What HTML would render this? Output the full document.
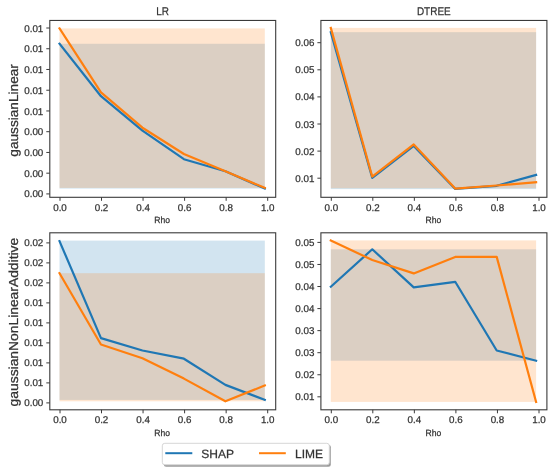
<!DOCTYPE html><html><head><meta charset="utf-8"><style>
html,body{margin:0;padding:0;background:#fff;width:550px;height:472px;overflow:hidden}
svg{display:block;will-change:transform}
text{font-family:"Liberation Sans", sans-serif;fill:#333;stroke:#333;stroke-width:0.25px;text-rendering:geometricPrecision}
.tk{font-size:9.8px}.lb{font-size:9px}.ti{font-size:11.2px}.yl{font-size:13px}.lg{font-size:12px}
</style></head><body>
<svg width="550" height="472" viewBox="0 0 550 472">
<rect x="0" y="0" width="550" height="472" fill="#fff"/>
<rect x="59.50" y="43.80" width="205.30" height="144.80" fill="#1f77b4" fill-opacity="0.2"/>
<rect x="59.50" y="28.40" width="205.30" height="159.50" fill="#ff7f0e" fill-opacity="0.2"/>
<polyline points="59.50,43.80 100.97,96.20 142.45,130.60 183.92,159.20 225.40,171.30 264.80,188.60" fill="none" stroke="#1f77b4" stroke-width="2.2" stroke-linejoin="round" stroke-linecap="square"/>
<polyline points="59.50,28.40 100.97,92.40 142.45,127.70 183.92,154.00 225.40,171.30 264.80,187.90" fill="none" stroke="#ff7f0e" stroke-width="2.2" stroke-linejoin="round" stroke-linecap="square"/>
<rect x="49.80" y="20.45" width="225.90" height="176.85" fill="none" stroke="#3a3a3a" stroke-width="1.1"/>
<line x1="60.00" y1="197.30" x2="60.00" y2="200.80" stroke="#3a3a3a" stroke-width="1"/>
<text class="tk" x="60.00" y="210.70" text-anchor="middle">0.0</text>
<line x1="101.50" y1="197.30" x2="101.50" y2="200.80" stroke="#3a3a3a" stroke-width="1"/>
<text class="tk" x="101.50" y="210.70" text-anchor="middle">0.2</text>
<line x1="143.05" y1="197.30" x2="143.05" y2="200.80" stroke="#3a3a3a" stroke-width="1"/>
<text class="tk" x="143.05" y="210.70" text-anchor="middle">0.4</text>
<line x1="184.60" y1="197.30" x2="184.60" y2="200.80" stroke="#3a3a3a" stroke-width="1"/>
<text class="tk" x="184.60" y="210.70" text-anchor="middle">0.6</text>
<line x1="226.15" y1="197.30" x2="226.15" y2="200.80" stroke="#3a3a3a" stroke-width="1"/>
<text class="tk" x="226.15" y="210.70" text-anchor="middle">0.8</text>
<line x1="267.70" y1="197.30" x2="267.70" y2="200.80" stroke="#3a3a3a" stroke-width="1"/>
<text class="tk" x="267.70" y="210.70" text-anchor="middle">1.0</text>
<line x1="46.30" y1="28.00" x2="49.80" y2="28.00" stroke="#3a3a3a" stroke-width="1"/>
<text class="tk" x="43.30" y="31.55" text-anchor="end">0.01</text>
<line x1="46.30" y1="48.74" x2="49.80" y2="48.74" stroke="#3a3a3a" stroke-width="1"/>
<text class="tk" x="43.30" y="52.29" text-anchor="end">0.01</text>
<line x1="46.30" y1="69.48" x2="49.80" y2="69.48" stroke="#3a3a3a" stroke-width="1"/>
<text class="tk" x="43.30" y="73.03" text-anchor="end">0.01</text>
<line x1="46.30" y1="90.22" x2="49.80" y2="90.22" stroke="#3a3a3a" stroke-width="1"/>
<text class="tk" x="43.30" y="93.77" text-anchor="end">0.01</text>
<line x1="46.30" y1="110.96" x2="49.80" y2="110.96" stroke="#3a3a3a" stroke-width="1"/>
<text class="tk" x="43.30" y="114.51" text-anchor="end">0.01</text>
<line x1="46.30" y1="131.70" x2="49.80" y2="131.70" stroke="#3a3a3a" stroke-width="1"/>
<text class="tk" x="43.30" y="135.25" text-anchor="end">0.00</text>
<line x1="46.30" y1="152.44" x2="49.80" y2="152.44" stroke="#3a3a3a" stroke-width="1"/>
<text class="tk" x="43.30" y="155.99" text-anchor="end">0.00</text>
<line x1="46.30" y1="173.18" x2="49.80" y2="173.18" stroke="#3a3a3a" stroke-width="1"/>
<text class="tk" x="43.30" y="176.73" text-anchor="end">0.00</text>
<line x1="46.30" y1="193.92" x2="49.80" y2="193.92" stroke="#3a3a3a" stroke-width="1"/>
<text class="tk" x="43.30" y="197.47" text-anchor="end">0.00</text>
<text class="lb" transform="translate(162.15,223.10) scale(0.95,1)" text-anchor="middle">Rho</text>
<rect x="330.80" y="32.20" width="205.30" height="156.90" fill="#1f77b4" fill-opacity="0.2"/>
<rect x="330.80" y="27.90" width="205.30" height="160.30" fill="#ff7f0e" fill-opacity="0.2"/>
<polyline points="330.80,32.20 372.27,178.00 413.75,146.00 455.22,188.90 496.70,185.80 536.10,174.90" fill="none" stroke="#1f77b4" stroke-width="2.2" stroke-linejoin="round" stroke-linecap="square"/>
<polyline points="330.80,27.90 372.27,176.70 413.75,144.40 455.22,188.60 496.70,185.50 536.10,182.30" fill="none" stroke="#ff7f0e" stroke-width="2.2" stroke-linejoin="round" stroke-linecap="square"/>
<rect x="320.90" y="20.45" width="226.00" height="176.85" fill="none" stroke="#3a3a3a" stroke-width="1.1"/>
<line x1="331.30" y1="197.30" x2="331.30" y2="200.80" stroke="#3a3a3a" stroke-width="1"/>
<text class="tk" x="331.30" y="210.70" text-anchor="middle">0.0</text>
<line x1="372.80" y1="197.30" x2="372.80" y2="200.80" stroke="#3a3a3a" stroke-width="1"/>
<text class="tk" x="372.80" y="210.70" text-anchor="middle">0.2</text>
<line x1="414.35" y1="197.30" x2="414.35" y2="200.80" stroke="#3a3a3a" stroke-width="1"/>
<text class="tk" x="414.35" y="210.70" text-anchor="middle">0.4</text>
<line x1="455.90" y1="197.30" x2="455.90" y2="200.80" stroke="#3a3a3a" stroke-width="1"/>
<text class="tk" x="455.90" y="210.70" text-anchor="middle">0.6</text>
<line x1="497.45" y1="197.30" x2="497.45" y2="200.80" stroke="#3a3a3a" stroke-width="1"/>
<text class="tk" x="497.45" y="210.70" text-anchor="middle">0.8</text>
<line x1="539.00" y1="197.30" x2="539.00" y2="200.80" stroke="#3a3a3a" stroke-width="1"/>
<text class="tk" x="539.00" y="210.70" text-anchor="middle">1.0</text>
<line x1="317.40" y1="42.70" x2="320.90" y2="42.70" stroke="#3a3a3a" stroke-width="1"/>
<text class="tk" x="314.40" y="46.25" text-anchor="end">0.06</text>
<line x1="317.40" y1="69.80" x2="320.90" y2="69.80" stroke="#3a3a3a" stroke-width="1"/>
<text class="tk" x="314.40" y="73.35" text-anchor="end">0.05</text>
<line x1="317.40" y1="96.90" x2="320.90" y2="96.90" stroke="#3a3a3a" stroke-width="1"/>
<text class="tk" x="314.40" y="100.45" text-anchor="end">0.04</text>
<line x1="317.40" y1="124.00" x2="320.90" y2="124.00" stroke="#3a3a3a" stroke-width="1"/>
<text class="tk" x="314.40" y="127.55" text-anchor="end">0.03</text>
<line x1="317.40" y1="151.10" x2="320.90" y2="151.10" stroke="#3a3a3a" stroke-width="1"/>
<text class="tk" x="314.40" y="154.65" text-anchor="end">0.02</text>
<line x1="317.40" y1="178.20" x2="320.90" y2="178.20" stroke="#3a3a3a" stroke-width="1"/>
<text class="tk" x="314.40" y="181.75" text-anchor="end">0.01</text>
<text class="lb" transform="translate(433.30,223.10) scale(0.95,1)" text-anchor="middle">Rho</text>
<rect x="59.50" y="240.60" width="205.30" height="159.30" fill="#1f77b4" fill-opacity="0.2"/>
<rect x="59.50" y="273.20" width="205.30" height="128.10" fill="#ff7f0e" fill-opacity="0.2"/>
<polyline points="59.50,241.10 100.97,338.10 142.45,350.50 183.92,358.70 225.40,384.90 264.80,399.90" fill="none" stroke="#1f77b4" stroke-width="2.2" stroke-linejoin="round" stroke-linecap="square"/>
<polyline points="59.50,273.20 100.97,344.50 142.45,358.20 183.92,378.60 225.40,401.30 264.80,385.50" fill="none" stroke="#ff7f0e" stroke-width="2.2" stroke-linejoin="round" stroke-linecap="square"/>
<rect x="49.80" y="232.80" width="225.90" height="177.00" fill="none" stroke="#3a3a3a" stroke-width="1.1"/>
<line x1="60.00" y1="409.80" x2="60.00" y2="413.30" stroke="#3a3a3a" stroke-width="1"/>
<text class="tk" x="60.00" y="423.20" text-anchor="middle">0.0</text>
<line x1="101.50" y1="409.80" x2="101.50" y2="413.30" stroke="#3a3a3a" stroke-width="1"/>
<text class="tk" x="101.50" y="423.20" text-anchor="middle">0.2</text>
<line x1="143.05" y1="409.80" x2="143.05" y2="413.30" stroke="#3a3a3a" stroke-width="1"/>
<text class="tk" x="143.05" y="423.20" text-anchor="middle">0.4</text>
<line x1="184.60" y1="409.80" x2="184.60" y2="413.30" stroke="#3a3a3a" stroke-width="1"/>
<text class="tk" x="184.60" y="423.20" text-anchor="middle">0.6</text>
<line x1="226.15" y1="409.80" x2="226.15" y2="413.30" stroke="#3a3a3a" stroke-width="1"/>
<text class="tk" x="226.15" y="423.20" text-anchor="middle">0.8</text>
<line x1="267.70" y1="409.80" x2="267.70" y2="413.30" stroke="#3a3a3a" stroke-width="1"/>
<text class="tk" x="267.70" y="423.20" text-anchor="middle">1.0</text>
<line x1="46.30" y1="242.90" x2="49.80" y2="242.90" stroke="#3a3a3a" stroke-width="1"/>
<text class="tk" x="43.30" y="246.45" text-anchor="end">0.02</text>
<line x1="46.30" y1="262.90" x2="49.80" y2="262.90" stroke="#3a3a3a" stroke-width="1"/>
<text class="tk" x="43.30" y="266.45" text-anchor="end">0.02</text>
<line x1="46.30" y1="282.90" x2="49.80" y2="282.90" stroke="#3a3a3a" stroke-width="1"/>
<text class="tk" x="43.30" y="286.45" text-anchor="end">0.02</text>
<line x1="46.30" y1="302.90" x2="49.80" y2="302.90" stroke="#3a3a3a" stroke-width="1"/>
<text class="tk" x="43.30" y="306.45" text-anchor="end">0.01</text>
<line x1="46.30" y1="322.90" x2="49.80" y2="322.90" stroke="#3a3a3a" stroke-width="1"/>
<text class="tk" x="43.30" y="326.45" text-anchor="end">0.01</text>
<line x1="46.30" y1="342.90" x2="49.80" y2="342.90" stroke="#3a3a3a" stroke-width="1"/>
<text class="tk" x="43.30" y="346.45" text-anchor="end">0.01</text>
<line x1="46.30" y1="362.90" x2="49.80" y2="362.90" stroke="#3a3a3a" stroke-width="1"/>
<text class="tk" x="43.30" y="366.45" text-anchor="end">0.01</text>
<line x1="46.30" y1="382.90" x2="49.80" y2="382.90" stroke="#3a3a3a" stroke-width="1"/>
<text class="tk" x="43.30" y="386.45" text-anchor="end">0.01</text>
<line x1="46.30" y1="402.90" x2="49.80" y2="402.90" stroke="#3a3a3a" stroke-width="1"/>
<text class="tk" x="43.30" y="406.45" text-anchor="end">0.00</text>
<text class="lb" transform="translate(162.15,435.60) scale(0.95,1)" text-anchor="middle">Rho</text>
<rect x="330.80" y="249.30" width="205.30" height="111.40" fill="#1f77b4" fill-opacity="0.2"/>
<rect x="330.80" y="240.40" width="205.30" height="161.50" fill="#ff7f0e" fill-opacity="0.2"/>
<polyline points="330.80,286.70 372.27,249.30 413.75,287.40 455.22,281.80 496.70,350.50 536.10,360.70" fill="none" stroke="#1f77b4" stroke-width="2.2" stroke-linejoin="round" stroke-linecap="square"/>
<polyline points="330.80,240.40 372.27,260.00 413.75,273.40 455.22,256.90 496.70,256.90 536.10,401.90" fill="none" stroke="#ff7f0e" stroke-width="2.2" stroke-linejoin="round" stroke-linecap="square"/>
<rect x="320.90" y="232.80" width="226.00" height="177.00" fill="none" stroke="#3a3a3a" stroke-width="1.1"/>
<line x1="331.30" y1="409.80" x2="331.30" y2="413.30" stroke="#3a3a3a" stroke-width="1"/>
<text class="tk" x="331.30" y="423.20" text-anchor="middle">0.0</text>
<line x1="372.80" y1="409.80" x2="372.80" y2="413.30" stroke="#3a3a3a" stroke-width="1"/>
<text class="tk" x="372.80" y="423.20" text-anchor="middle">0.2</text>
<line x1="414.35" y1="409.80" x2="414.35" y2="413.30" stroke="#3a3a3a" stroke-width="1"/>
<text class="tk" x="414.35" y="423.20" text-anchor="middle">0.4</text>
<line x1="455.90" y1="409.80" x2="455.90" y2="413.30" stroke="#3a3a3a" stroke-width="1"/>
<text class="tk" x="455.90" y="423.20" text-anchor="middle">0.6</text>
<line x1="497.45" y1="409.80" x2="497.45" y2="413.30" stroke="#3a3a3a" stroke-width="1"/>
<text class="tk" x="497.45" y="423.20" text-anchor="middle">0.8</text>
<line x1="539.00" y1="409.80" x2="539.00" y2="413.30" stroke="#3a3a3a" stroke-width="1"/>
<text class="tk" x="539.00" y="423.20" text-anchor="middle">1.0</text>
<line x1="317.40" y1="242.40" x2="320.90" y2="242.40" stroke="#3a3a3a" stroke-width="1"/>
<text class="tk" x="314.40" y="245.95" text-anchor="end">0.05</text>
<line x1="317.40" y1="264.46" x2="320.90" y2="264.46" stroke="#3a3a3a" stroke-width="1"/>
<text class="tk" x="314.40" y="268.01" text-anchor="end">0.05</text>
<line x1="317.40" y1="286.52" x2="320.90" y2="286.52" stroke="#3a3a3a" stroke-width="1"/>
<text class="tk" x="314.40" y="290.07" text-anchor="end">0.04</text>
<line x1="317.40" y1="308.58" x2="320.90" y2="308.58" stroke="#3a3a3a" stroke-width="1"/>
<text class="tk" x="314.40" y="312.13" text-anchor="end">0.04</text>
<line x1="317.40" y1="330.64" x2="320.90" y2="330.64" stroke="#3a3a3a" stroke-width="1"/>
<text class="tk" x="314.40" y="334.19" text-anchor="end">0.03</text>
<line x1="317.40" y1="352.70" x2="320.90" y2="352.70" stroke="#3a3a3a" stroke-width="1"/>
<text class="tk" x="314.40" y="356.25" text-anchor="end">0.03</text>
<line x1="317.40" y1="374.76" x2="320.90" y2="374.76" stroke="#3a3a3a" stroke-width="1"/>
<text class="tk" x="314.40" y="378.31" text-anchor="end">0.02</text>
<line x1="317.40" y1="396.82" x2="320.90" y2="396.82" stroke="#3a3a3a" stroke-width="1"/>
<text class="tk" x="314.40" y="400.37" text-anchor="end">0.01</text>
<text class="lb" transform="translate(433.30,435.60) scale(0.95,1)" text-anchor="middle">Rho</text>
<text class="ti" transform="translate(162.6,15.3) scale(0.89,1)" text-anchor="middle">LR</text>
<text class="ti" transform="translate(433.8,15.3) scale(0.89,1)" text-anchor="middle">DTREE</text>
<text class="yl" transform="translate(17.6,110.4) rotate(-90) scale(1.05,1)" text-anchor="middle">gaussianLinear</text>
<text class="yl" transform="translate(17.6,322.1) rotate(-90) scale(1.065,1)" text-anchor="middle">gaussianNonLinearAdditive</text>
<rect x="163.8" y="444.8" width="167" height="22" rx="2.5" fill="#8a8a8a" fill-opacity="0.85"/>
<rect x="162.3" y="443.3" width="167" height="21.5" rx="2.5" fill="#fff" stroke="#d6d6d6" stroke-width="1"/>
<line x1="165.3" y1="453.2" x2="192.3" y2="453.2" stroke="#1f77b4" stroke-width="2"/>
<line x1="259.0" y1="453.2" x2="285.8" y2="453.2" stroke="#ff7f0e" stroke-width="2"/>
<text class="lg" x="201.3" y="457.9">SHAP</text>
<text class="lg" x="295.0" y="457.9">LIME</text>
</svg></body></html>
